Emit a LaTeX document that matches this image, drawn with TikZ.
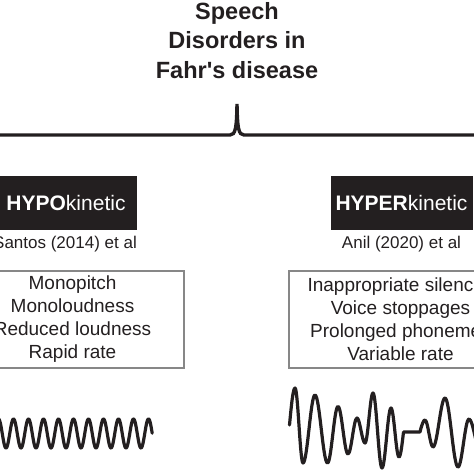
\documentclass[tikz,border=0pt]{standalone}
\usepackage{fontspec}
\setmainfont{Liberation Sans}[Ligatures=TeXOff]
\usepackage{xcolor}
\usepackage{tikz}
\usetikzlibrary{positioning}
\definecolor{inkblack}{RGB}{35,31,32}
\definecolor{framegrey}{RGB}{135,135,135}
\begin{document}
\begin{tikzpicture}[x=1pt,y=-1pt,every node/.style={text=inkblack,inner sep=0pt},
heading/.style={font=\fontsize{23.5}{29.5}\selectfont\bfseries,align=center},
tagbox/.style={fill=inkblack,text=white,minimum width=142pt,minimum height=54pt,font=\fontsize{21}{25}\selectfont},
citation/.style={font=\fontsize{17}{20}\selectfont},
listbox/.style={draw=framegrey,line width=1.2pt,align=center,minimum width=223pt,minimum height=97pt,font=\fontsize{19}{23}\selectfont},
brace/.style={draw=inkblack,line width=3.4pt},
wave/.style={draw=inkblack,line width=3.2pt,line join=round,line cap=round}]
\useasboundingbox (0,0) rectangle (474,474);
\clip (0,0) rectangle (474,474);
\node[heading,anchor=base] (title) at (237,78) {Speech\\Disorders in\\Fahr's disease};
\coordinate (bl) at (-5,135);
\coordinate (br) at (480,135);
\coordinate (tip) at (237,104);
\draw[brace] (bl) -- (230,135) .. controls (235.5,135) and (236.6,128) .. (tip)
  .. controls (237.4,128) and (238.5,135) .. (244,135) -- (br);
\node[tagbox] (hypo) at (66,203) {{\bfseries HYPO}kinetic};
\node[tagbox] (hyper) at (401.5,203) {{\bfseries HYPER}kinetic};
\node[citation,anchor=base] (santos) at (65,248) {Santos (2014) et al};
\node[citation,anchor=base] (anil) at (401.5,248) {Anil (2020) et al};
\node[listbox] (hypolist) at (72.5,319.5) {Monopitch\\Monoloudness\\Reduced loudness\\Rapid rate};
\node[listbox] (hyperlist) at (400.5,319.5) {Inappropriate silences\\Voice stoppages\\Prolonged phonemes\\Variable rate};
\draw[wave] plot[domain=-5:152.2,samples=300] (\x,{433.5-14.5*cos(24*(\x-148.5))});
\draw[wave] (289.5,425) sin (295,388) cos (299,425.5) sin (303,463) cos (309,429) sin (315,395)
  cos (321.25,429) sin (327.5,463) cos (332.75,434.75) sin (338,406.5) cos (343,430.25) sin (348,454)
  cos (352.5,436) sin (357,418) cos (361,430.5) sin (365,443) cos (369,418) sin (373,393)
  cos (377.5,430.5) sin (382,468) cos (386.5,438) sin (391,408) cos (395,432.5) sin (399,457)
  cos (403.5,432) -- (420,432) -- (421,428) sin (425,420) cos (429,433.5) sin (433,447)
  cos (439,422.5) sin (445,398) cos (451.5,432.5) sin (458,467) cos (463.5,443) sin (469,419)
  cos (474.5,434) sin (480,449);
\end{tikzpicture}
\end{document}
